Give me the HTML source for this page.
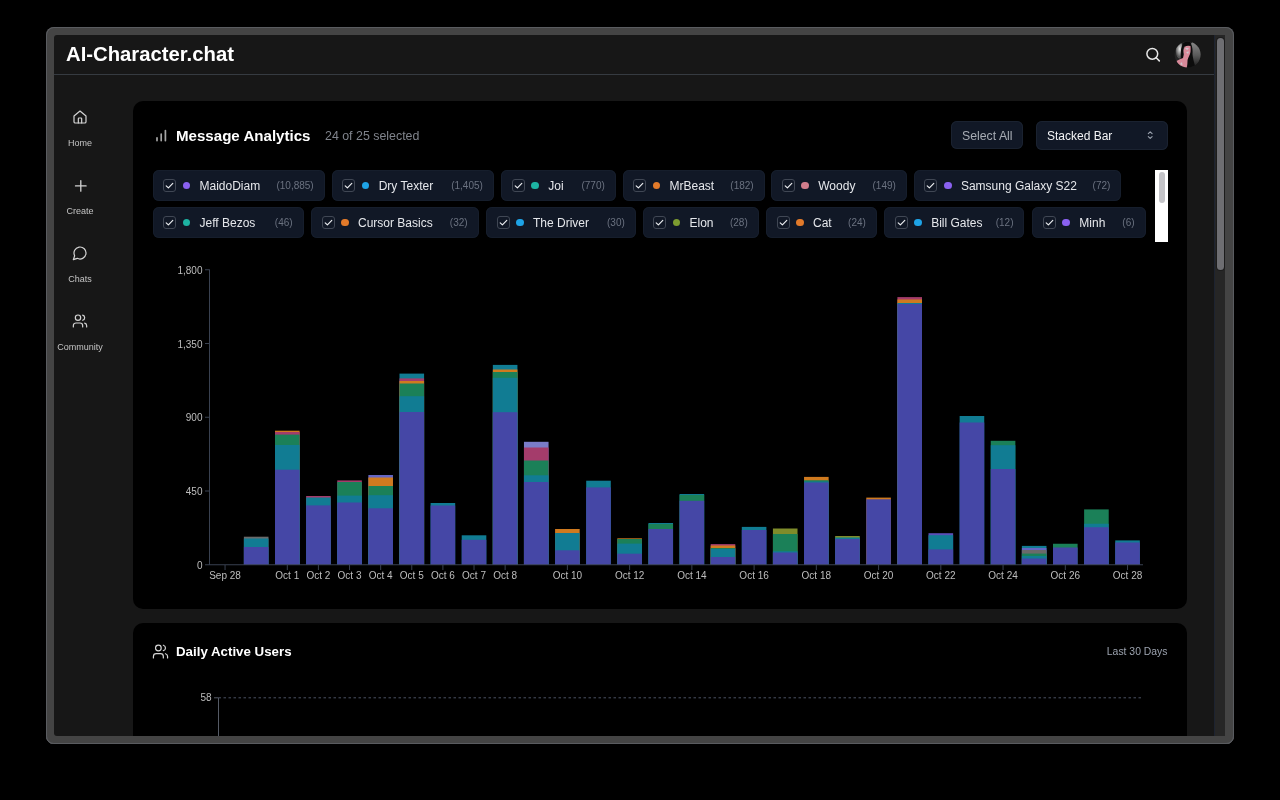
<!DOCTYPE html>
<html><head><meta charset="utf-8">
<style>
html,body{margin:0;padding:0;}
body{width:1280px;height:800px;overflow:hidden;background:#000;position:relative;font-family:"Liberation Sans",sans-serif;}
.wrap{position:absolute;left:0;top:0;width:1280px;height:800px;will-change:transform;}
.abs{position:absolute;}
.frame{position:absolute;left:46px;top:27px;width:1188px;height:717px;background:#444444;border-radius:8px;box-shadow:inset 0 0 0 1px #5a5c60;}
.screen{position:absolute;left:54px;top:35px;width:1171px;height:701px;background:#171717;border-radius:3px;overflow:hidden;}
.hdr-line{position:absolute;left:54px;top:74px;width:1159.5px;height:1px;background:#363b41;}
.title{position:absolute;left:66px;top:44.3px;font-size:20.3px;line-height:20.3px;font-weight:bold;color:#fff;white-space:nowrap;}
.track{position:absolute;left:1213.5px;top:35px;width:11.5px;height:701px;background:#262626;box-shadow:inset 1px 0 0 #1d2330;}
.thumb{position:absolute;left:1216.5px;top:37.5px;width:7px;height:232.5px;background:#6e6e72;border-radius:3.5px;box-shadow:0 0 0 1px #1c1c1c;}
.nav{position:absolute;left:54px;width:52px;text-align:center;font-size:9px;line-height:9px;color:#c4c4c4;}
.card{position:absolute;left:133px;width:1054px;background:#000;border-radius:10px;}
.chip{position:absolute;height:31px;background:#111826;border-radius:6px;box-shadow:inset 0 0 0 1px #161e2c;}
.cb{position:absolute;left:10.5px;top:9px;width:11px;height:11px;border:1px solid #404754;border-radius:3px;}
.cb svg{position:absolute;left:-1px;top:-1px;}
.dot{position:absolute;left:30.2px;top:11.5px;width:7.6px;height:7.6px;border-radius:50%;}
.nm{position:absolute;left:47px;top:10px;font-size:12px;line-height:12px;color:#e5e7eb;white-space:nowrap;}
.ct{position:absolute;right:11px;top:11px;font-size:10px;line-height:10px;color:#6b7280;white-space:nowrap;}
.btn{position:absolute;background:#111826;border-radius:6px;box-shadow:inset 0 0 0 1px #1a2230;}
svg text.ax{font-family:"Liberation Sans",sans-serif;font-size:10px;fill:#bdbdbd;}
</style></head><body><div class="wrap">
<div class="frame"></div>
<div class="screen"></div>
<div class="hdr-line"></div>
<div class="title">AI-Character.chat</div>
<svg class="abs" style="left:1144px;top:46px" width="18" height="18" viewBox="0 0 18 18"><circle cx="8.3" cy="7.8" r="5.4" fill="none" stroke="#e8e8e8" stroke-width="1.5"/><path d="M12.2 11.8 L15.3 14.9" stroke="#e8e8e8" stroke-width="1.5" stroke-linecap="round"/></svg>
<svg class="abs" style="left:1170px;top:38px" width="34" height="34" viewBox="0 0 34 34">
<defs><clipPath id="av"><circle cx="17.6" cy="16.6" r="13"/></clipPath>
<linearGradient id="avr" x1="0" y1="0" x2="0" y2="1"><stop offset="0" stop-color="#8c8c8c"/><stop offset="0.6" stop-color="#5a5a5a"/><stop offset="1" stop-color="#262626"/></linearGradient>
<radialGradient id="avl" cx="0.5" cy="0.4" r="0.5"><stop offset="0" stop-color="#e8e8e8"/><stop offset="1" stop-color="#555"/></radialGradient></defs>
<g clip-path="url(#av)"><rect width="34" height="34" fill="#262626"/>
<ellipse cx="25.5" cy="15" rx="7" ry="12" fill="url(#avr)"/>
<ellipse cx="9.8" cy="12.5" rx="4" ry="8" fill="url(#avl)"/>
<path d="M11 22 Q10 12 12.5 6 Q16 2.5 20 4 Q23 8 22.5 16 Q23 22 26 31 L17 32 Q18 22 18 14 Q17.5 7 14 8 Q12.5 14 13.5 21Z" fill="#0c0c0c"/>
<path d="M14.5 9 Q17 7 20.5 8 Q21 13 20 16 Q18.5 19 17.5 22 Q17.5 27 16.5 31 L11 31 Q7.5 27 6.5 23 Q10 21 13 20 Q13.5 18 14 16 Q13 12 14.5 9Z" fill="#d98a9a"/>
<path d="M15 10 Q17.5 9.5 19 10.5 L17 12 Z M16 14 L19 13.5 L18 16 Z M10 26 L12 24 L12.5 27.5 Z" fill="#c9d4d8" opacity="0.8"/>
</g></svg>
<div class="track"></div><div class="thumb"></div>

<!-- sidebar -->
<svg class="abs" style="left:72px;top:109px" width="16" height="16" viewBox="0 0 24 24" fill="none" stroke="#d4d4d4" stroke-width="1.8" stroke-linecap="round" stroke-linejoin="round"><path d="M3 10.5 L12 3 L21 10.5 V19 a2 2 0 0 1 -2 2 H5 a2 2 0 0 1 -2 -2 Z"/><path d="M9.5 21 V14.5 a1 1 0 0 1 1 -1 h3 a1 1 0 0 1 1 1 V21"/></svg>
<div class="nav" style="top:138.6px">Home</div>
<svg class="abs" style="left:73.5px;top:178.5px" width="13" height="13" viewBox="0 0 13 13" stroke="#d4d4d4" stroke-width="1.3" stroke-linecap="round"><path d="M6.8 1.6 V12.2 M1.5 6.9 H12.1"/></svg>
<div class="nav" style="top:206.6px">Create</div>
<svg class="abs" style="left:72px;top:245px" width="16" height="16" viewBox="0 0 24 24" fill="none" stroke="#d4d4d4" stroke-width="1.8" stroke-linecap="round" stroke-linejoin="round"><path d="M7.9 20 A9 9 0 1 0 4 16.1 L2 22 Z"/></svg>
<div class="nav" style="top:274.6px">Chats</div>
<svg class="abs" style="left:72px;top:312.5px" width="16" height="16" viewBox="0 0 24 24" fill="none" stroke="#d4d4d4" stroke-width="1.8" stroke-linecap="round" stroke-linejoin="round"><path d="M16 21v-2a4 4 0 0 0-4-4H6a4 4 0 0 0-4 4v2"/><circle cx="9" cy="7" r="4"/><path d="M22 21v-2a4 4 0 0 0-3-3.87"/><path d="M16 3.13a4 4 0 0 1 0 7.75"/></svg>
<div class="nav" style="top:342.6px">Community</div>

<!-- card 1 -->
<div class="card" style="top:100.5px;height:508.2px"></div>
<svg class="abs" style="left:155px;top:129px" width="12" height="13" viewBox="0 0 12 13" stroke="#a6a6a6" stroke-width="1.7" stroke-linecap="round"><path d="M2 11.6 V8.8 M6.2 11.6 V5.2 M10.4 11.6 V1.6"/></svg>
<div class="abs" style="left:176px;top:128.1px;font-size:15.1px;line-height:15.1px;font-weight:bold;color:#fff;white-space:nowrap">Message Analytics</div>
<div class="abs" style="left:325px;top:130px;font-size:12.4px;line-height:12.4px;color:#80848c;white-space:nowrap">24 of 25 selected</div>
<div class="btn" style="left:951px;top:121px;width:72px;height:28px"></div>
<div class="abs" style="left:962px;top:129.9px;font-size:12.3px;line-height:12.3px;color:#a6abb3;white-space:nowrap">Select All</div>
<div class="btn" style="left:1036px;top:120.5px;width:132px;height:29px"></div>
<div class="abs" style="left:1047px;top:129.9px;font-size:12px;line-height:12px;color:#f3f4f6;white-space:nowrap">Stacked Bar</div>
<svg class="abs" style="left:1146px;top:129px" width="8" height="12" viewBox="0 0 8 12" fill="none" stroke="#9ca3af" stroke-width="1.1" stroke-linecap="round" stroke-linejoin="round"><path d="M2.3 4.6 L4.2 2.8 L6.1 4.6 M2.3 7.6 L4.2 9.4 L6.1 7.6"/></svg>
<div class="chip" style="left:152.5px;top:170px;width:172.20px">
<div class="cb"><svg width="13" height="13" viewBox="0 0 13 13"><path d="M3.2 6.8 L5.4 8.9 L9.8 4.3" fill="none" stroke="#eef0f3" stroke-width="1.15" stroke-linecap="round" stroke-linejoin="round"/></svg></div>
<div class="dot" style="background:#8a61f0"></div>
<div class="nm">MaidoDiam</div><div class="ct">(10,885)</div></div>
<div class="chip" style="left:331.7px;top:170px;width:162.20px">
<div class="cb"><svg width="13" height="13" viewBox="0 0 13 13"><path d="M3.2 6.8 L5.4 8.9 L9.8 4.3" fill="none" stroke="#eef0f3" stroke-width="1.15" stroke-linecap="round" stroke-linejoin="round"/></svg></div>
<div class="dot" style="background:#1ea3e6"></div>
<div class="nm">Dry Texter</div><div class="ct">(1,405)</div></div>
<div class="chip" style="left:501.25px;top:170px;width:114.55px">
<div class="cb"><svg width="13" height="13" viewBox="0 0 13 13"><path d="M3.2 6.8 L5.4 8.9 L9.8 4.3" fill="none" stroke="#eef0f3" stroke-width="1.15" stroke-linecap="round" stroke-linejoin="round"/></svg></div>
<div class="dot" style="background:#1db3a2"></div>
<div class="nm">Joi</div><div class="ct">(770)</div></div>
<div class="chip" style="left:622.5px;top:170px;width:142.20px">
<div class="cb"><svg width="13" height="13" viewBox="0 0 13 13"><path d="M3.2 6.8 L5.4 8.9 L9.8 4.3" fill="none" stroke="#eef0f3" stroke-width="1.15" stroke-linecap="round" stroke-linejoin="round"/></svg></div>
<div class="dot" style="background:#e27a2a"></div>
<div class="nm">MrBeast</div><div class="ct">(182)</div></div>
<div class="chip" style="left:771.25px;top:170px;width:135.65px">
<div class="cb"><svg width="13" height="13" viewBox="0 0 13 13"><path d="M3.2 6.8 L5.4 8.9 L9.8 4.3" fill="none" stroke="#eef0f3" stroke-width="1.15" stroke-linecap="round" stroke-linejoin="round"/></svg></div>
<div class="dot" style="background:#d07d8c"></div>
<div class="nm">Woody</div><div class="ct">(149)</div></div>
<div class="chip" style="left:913.9px;top:170px;width:207.50px">
<div class="cb"><svg width="13" height="13" viewBox="0 0 13 13"><path d="M3.2 6.8 L5.4 8.9 L9.8 4.3" fill="none" stroke="#eef0f3" stroke-width="1.15" stroke-linecap="round" stroke-linejoin="round"/></svg></div>
<div class="dot" style="background:#8a61f0"></div>
<div class="nm">Samsung Galaxy S22</div><div class="ct">(72)</div></div>
<div class="chip" style="left:152.5px;top:207.3px;width:151.10px">
<div class="cb"><svg width="13" height="13" viewBox="0 0 13 13"><path d="M3.2 6.8 L5.4 8.9 L9.8 4.3" fill="none" stroke="#eef0f3" stroke-width="1.15" stroke-linecap="round" stroke-linejoin="round"/></svg></div>
<div class="dot" style="background:#1db3a2"></div>
<div class="nm">Jeff Bezos</div><div class="ct">(46)</div></div>
<div class="chip" style="left:311px;top:207.3px;width:167.60px">
<div class="cb"><svg width="13" height="13" viewBox="0 0 13 13"><path d="M3.2 6.8 L5.4 8.9 L9.8 4.3" fill="none" stroke="#eef0f3" stroke-width="1.15" stroke-linecap="round" stroke-linejoin="round"/></svg></div>
<div class="dot" style="background:#e27a2a"></div>
<div class="nm">Cursor Basics</div><div class="ct">(32)</div></div>
<div class="chip" style="left:486px;top:207.3px;width:149.80px">
<div class="cb"><svg width="13" height="13" viewBox="0 0 13 13"><path d="M3.2 6.8 L5.4 8.9 L9.8 4.3" fill="none" stroke="#eef0f3" stroke-width="1.15" stroke-linecap="round" stroke-linejoin="round"/></svg></div>
<div class="dot" style="background:#1ea3e6"></div>
<div class="nm">The Driver</div><div class="ct">(30)</div></div>
<div class="chip" style="left:642.5px;top:207.3px;width:116.25px">
<div class="cb"><svg width="13" height="13" viewBox="0 0 13 13"><path d="M3.2 6.8 L5.4 8.9 L9.8 4.3" fill="none" stroke="#eef0f3" stroke-width="1.15" stroke-linecap="round" stroke-linejoin="round"/></svg></div>
<div class="dot" style="background:#7d9c30"></div>
<div class="nm">Elon</div><div class="ct">(28)</div></div>
<div class="chip" style="left:766px;top:207.3px;width:110.90px">
<div class="cb"><svg width="13" height="13" viewBox="0 0 13 13"><path d="M3.2 6.8 L5.4 8.9 L9.8 4.3" fill="none" stroke="#eef0f3" stroke-width="1.15" stroke-linecap="round" stroke-linejoin="round"/></svg></div>
<div class="dot" style="background:#e27a2a"></div>
<div class="nm">Cat</div><div class="ct">(24)</div></div>
<div class="chip" style="left:884.2px;top:207.3px;width:140.30px">
<div class="cb"><svg width="13" height="13" viewBox="0 0 13 13"><path d="M3.2 6.8 L5.4 8.9 L9.8 4.3" fill="none" stroke="#eef0f3" stroke-width="1.15" stroke-linecap="round" stroke-linejoin="round"/></svg></div>
<div class="dot" style="background:#1ea3e6"></div>
<div class="nm">Bill Gates</div><div class="ct">(12)</div></div>
<div class="chip" style="left:1032.3px;top:207.3px;width:113.30px">
<div class="cb"><svg width="13" height="13" viewBox="0 0 13 13"><path d="M3.2 6.8 L5.4 8.9 L9.8 4.3" fill="none" stroke="#eef0f3" stroke-width="1.15" stroke-linecap="round" stroke-linejoin="round"/></svg></div>
<div class="dot" style="background:#8a61f0"></div>
<div class="nm">Minh</div><div class="ct">(6)</div></div>
<div class="abs" style="left:1155px;top:169.7px;width:12.8px;height:72px;background:#fff"></div>
<div class="abs" style="left:1158.8px;top:172px;width:6.4px;height:31.3px;background:#c4c4c8;border-radius:3.2px"></div>

<!-- card 2 -->
<div class="card" style="top:622.6px;height:130px"></div>
<svg class="abs" style="left:152px;top:643px" width="17" height="17" viewBox="0 0 24 24" fill="none" stroke="#d4d4d4" stroke-width="1.7" stroke-linecap="round" stroke-linejoin="round"><path d="M16 21v-2a4 4 0 0 0-4-4H6a4 4 0 0 0-4 4v2"/><circle cx="9" cy="7" r="4"/><path d="M22 21v-2a4 4 0 0 0-3-3.87"/><path d="M16 3.13a4 4 0 0 1 0 7.75"/></svg>
<div class="abs" style="left:176px;top:644.6px;font-size:13.3px;line-height:13.3px;font-weight:bold;color:#fff;white-space:nowrap">Daily Active Users</div>
<div class="abs" style="right:112.5px;top:646.9px;font-size:10.4px;line-height:10.4px;color:#9ca3af;white-space:nowrap">Last 30 Days</div>

<svg class="abs" style="left:0;top:0" width="1280" height="800" viewBox="0 0 1280 800">
<rect x="243.88" y="536.7" width="24.6" height="28.30" fill="#6a6a6a"/>
<rect x="243.88" y="538.5" width="24.6" height="26.50" fill="#117c93"/>
<rect x="243.88" y="547" width="24.6" height="18.00" fill="#4547a6"/>
<rect x="275.00" y="430.7" width="24.6" height="134.30" fill="#cf7a1f"/>
<rect x="275.00" y="432" width="24.6" height="133.00" fill="#a43c6b"/>
<rect x="275.00" y="434.6" width="24.6" height="130.40" fill="#1b8058"/>
<rect x="275.00" y="445" width="24.6" height="120.00" fill="#117c93"/>
<rect x="275.00" y="469.7" width="24.6" height="95.30" fill="#4547a6"/>
<rect x="306.12" y="496" width="24.6" height="69.00" fill="#a43c6b"/>
<rect x="306.12" y="497.5" width="24.6" height="67.50" fill="#117c93"/>
<rect x="306.12" y="505.4" width="24.6" height="59.60" fill="#4547a6"/>
<rect x="337.24" y="480.4" width="24.6" height="84.60" fill="#a43c6b"/>
<rect x="337.24" y="482" width="24.6" height="83.00" fill="#1b8058"/>
<rect x="337.24" y="495.6" width="24.6" height="69.40" fill="#117c93"/>
<rect x="337.24" y="502.5" width="24.6" height="62.50" fill="#4547a6"/>
<rect x="368.36" y="475" width="24.6" height="90.00" fill="#6466c4"/>
<rect x="368.36" y="477.5" width="24.6" height="87.50" fill="#cf7a1f"/>
<rect x="368.36" y="486" width="24.6" height="79.00" fill="#1b8058"/>
<rect x="368.36" y="495.2" width="24.6" height="69.80" fill="#117c93"/>
<rect x="368.36" y="508.3" width="24.6" height="56.70" fill="#4547a6"/>
<rect x="399.48" y="373.6" width="24.6" height="191.40" fill="#117c93"/>
<rect x="399.48" y="378.4" width="24.6" height="186.60" fill="#a43c6b"/>
<rect x="399.48" y="381" width="24.6" height="184.00" fill="#cf7a1f"/>
<rect x="399.48" y="383.5" width="24.6" height="181.50" fill="#1b8058"/>
<rect x="399.48" y="396.2" width="24.6" height="168.80" fill="#117c93"/>
<rect x="399.48" y="412" width="24.6" height="153.00" fill="#4547a6"/>
<rect x="430.60" y="503" width="24.6" height="62.00" fill="#117c93"/>
<rect x="430.60" y="505.5" width="24.6" height="59.50" fill="#4547a6"/>
<rect x="461.72" y="535.3" width="24.6" height="29.70" fill="#117c93"/>
<rect x="461.72" y="539.8" width="24.6" height="25.20" fill="#4547a6"/>
<rect x="492.84" y="364.9" width="24.6" height="200.10" fill="#117c93"/>
<rect x="492.84" y="369.5" width="24.6" height="195.50" fill="#cf7a1f"/>
<rect x="492.84" y="372" width="24.6" height="193.00" fill="#1b8058"/>
<rect x="492.84" y="377.8" width="24.6" height="187.20" fill="#117c93"/>
<rect x="492.84" y="412.2" width="24.6" height="152.80" fill="#4547a6"/>
<rect x="523.96" y="441.8" width="24.6" height="123.20" fill="#7a7cc8"/>
<rect x="523.96" y="447.5" width="24.6" height="117.50" fill="#a43c6b"/>
<rect x="523.96" y="460.5" width="24.6" height="104.50" fill="#1b8058"/>
<rect x="523.96" y="475.3" width="24.6" height="89.70" fill="#117c93"/>
<rect x="523.96" y="482" width="24.6" height="83.00" fill="#4547a6"/>
<rect x="555.08" y="529" width="24.6" height="36.00" fill="#cf7a1f"/>
<rect x="555.08" y="533" width="24.6" height="32.00" fill="#117c93"/>
<rect x="555.08" y="550.3" width="24.6" height="14.70" fill="#4547a6"/>
<rect x="586.20" y="480.7" width="24.6" height="84.30" fill="#117c93"/>
<rect x="586.20" y="487.4" width="24.6" height="77.60" fill="#4547a6"/>
<rect x="617.32" y="538.3" width="24.6" height="26.70" fill="#cf7a1f"/>
<rect x="617.32" y="539" width="24.6" height="26.00" fill="#1b8058"/>
<rect x="617.32" y="543.6" width="24.6" height="21.40" fill="#117c93"/>
<rect x="617.32" y="553.7" width="24.6" height="11.30" fill="#4547a6"/>
<rect x="648.44" y="523" width="24.6" height="42.00" fill="#117c93"/>
<rect x="648.44" y="524" width="24.6" height="41.00" fill="#1b8058"/>
<rect x="648.44" y="529" width="24.6" height="36.00" fill="#4547a6"/>
<rect x="679.56" y="494" width="24.6" height="71.00" fill="#117c93"/>
<rect x="679.56" y="495" width="24.6" height="70.00" fill="#1b8058"/>
<rect x="679.56" y="500.8" width="24.6" height="64.20" fill="#4547a6"/>
<rect x="710.68" y="544.1" width="24.6" height="20.90" fill="#a43c6b"/>
<rect x="710.68" y="545.5" width="24.6" height="19.50" fill="#cf7a1f"/>
<rect x="710.68" y="548" width="24.6" height="17.00" fill="#1b8058"/>
<rect x="710.68" y="549" width="24.6" height="16.00" fill="#117c93"/>
<rect x="710.68" y="557" width="24.6" height="8.00" fill="#4547a6"/>
<rect x="741.80" y="526.9" width="24.6" height="38.10" fill="#117c93"/>
<rect x="741.80" y="530" width="24.6" height="35.00" fill="#4547a6"/>
<rect x="772.92" y="528.5" width="24.6" height="36.50" fill="#7f8c2a"/>
<rect x="772.92" y="534" width="24.6" height="31.00" fill="#1b8058"/>
<rect x="772.92" y="551.25" width="24.6" height="13.75" fill="#117c93"/>
<rect x="772.92" y="552.5" width="24.6" height="12.50" fill="#4547a6"/>
<rect x="804.04" y="476.9" width="24.6" height="88.10" fill="#cf7a1f"/>
<rect x="804.04" y="480.25" width="24.6" height="84.75" fill="#1b8058"/>
<rect x="804.04" y="481.5" width="24.6" height="83.50" fill="#117c93"/>
<rect x="804.04" y="482.5" width="24.6" height="82.50" fill="#4547a6"/>
<rect x="835.16" y="536" width="24.6" height="29.00" fill="#7f8c2a"/>
<rect x="835.16" y="537.5" width="24.6" height="27.50" fill="#117c93"/>
<rect x="835.16" y="539" width="24.6" height="26.00" fill="#4547a6"/>
<rect x="866.28" y="497.6" width="24.6" height="67.40" fill="#cf7a1f"/>
<rect x="866.28" y="499.3" width="24.6" height="65.70" fill="#4547a6"/>
<rect x="897.40" y="297.1" width="24.6" height="267.90" fill="#a43c6b"/>
<rect x="897.40" y="299.5" width="24.6" height="265.50" fill="#cf7a1f"/>
<rect x="897.40" y="303" width="24.6" height="262.00" fill="#117c93"/>
<rect x="897.40" y="304" width="24.6" height="261.00" fill="#4547a6"/>
<rect x="928.52" y="533.2" width="24.6" height="31.80" fill="#5a4fb8"/>
<rect x="928.52" y="535.2" width="24.6" height="29.80" fill="#117c93"/>
<rect x="928.52" y="549.4" width="24.6" height="15.60" fill="#4547a6"/>
<rect x="959.64" y="416" width="24.6" height="149.00" fill="#117c93"/>
<rect x="959.64" y="422.5" width="24.6" height="142.50" fill="#4547a6"/>
<rect x="990.76" y="440.8" width="24.6" height="124.20" fill="#1b8058"/>
<rect x="990.76" y="445.2" width="24.6" height="119.80" fill="#117c93"/>
<rect x="990.76" y="469" width="24.6" height="96.00" fill="#4547a6"/>
<rect x="1021.88" y="545.9" width="24.6" height="19.10" fill="#117c93"/>
<rect x="1021.88" y="548" width="24.6" height="17.00" fill="#6466c4"/>
<rect x="1021.88" y="550" width="24.6" height="15.00" fill="#6a6a6a"/>
<rect x="1021.88" y="553.6" width="24.6" height="11.40" fill="#1b8058"/>
<rect x="1021.88" y="556" width="24.6" height="9.00" fill="#117c93"/>
<rect x="1021.88" y="558.5" width="24.6" height="6.50" fill="#4547a6"/>
<rect x="1053.00" y="543.75" width="24.6" height="21.25" fill="#1b8058"/>
<rect x="1053.00" y="547.5" width="24.6" height="17.50" fill="#4547a6"/>
<rect x="1084.12" y="509.4" width="24.6" height="55.60" fill="#1b8058"/>
<rect x="1084.12" y="523.75" width="24.6" height="41.25" fill="#117c93"/>
<rect x="1084.12" y="527.25" width="24.6" height="37.75" fill="#4547a6"/>
<rect x="1115.24" y="540.4" width="24.6" height="24.60" fill="#117c93"/>
<rect x="1115.24" y="542.5" width="24.6" height="22.50" fill="#4547a6"/>
<line x1="209.5" y1="269.5" x2="209.5" y2="565" stroke="#394150" stroke-width="1"/>
<line x1="209.5" y1="564.75" x2="1143" y2="564.75" stroke="#394150" stroke-width="1"/>
<line x1="205" y1="269.75" x2="209.5" y2="269.75" stroke="#394150" stroke-width="1"/>
<text x="202.5" y="273.95" text-anchor="end" class="ax">1,800</text>
<line x1="205" y1="343.5" x2="209.5" y2="343.5" stroke="#394150" stroke-width="1"/>
<text x="202.5" y="347.70" text-anchor="end" class="ax">1,350</text>
<line x1="205" y1="417.25" x2="209.5" y2="417.25" stroke="#394150" stroke-width="1"/>
<text x="202.5" y="421.45" text-anchor="end" class="ax">900</text>
<line x1="205" y1="491.0" x2="209.5" y2="491.0" stroke="#394150" stroke-width="1"/>
<text x="202.5" y="495.20" text-anchor="end" class="ax">450</text>
<line x1="205" y1="564.75" x2="209.5" y2="564.75" stroke="#394150" stroke-width="1"/>
<text x="202.5" y="568.95" text-anchor="end" class="ax">0</text>
<line x1="225.06" y1="565" x2="225.06" y2="570" stroke="#394150" stroke-width="1"/>
<text x="225.06" y="578.8" text-anchor="middle" class="ax">Sep 28</text>
<line x1="287.30" y1="565" x2="287.30" y2="570" stroke="#394150" stroke-width="1"/>
<text x="287.30" y="578.8" text-anchor="middle" class="ax">Oct 1</text>
<line x1="318.42" y1="565" x2="318.42" y2="570" stroke="#394150" stroke-width="1"/>
<text x="318.42" y="578.8" text-anchor="middle" class="ax">Oct 2</text>
<line x1="349.54" y1="565" x2="349.54" y2="570" stroke="#394150" stroke-width="1"/>
<text x="349.54" y="578.8" text-anchor="middle" class="ax">Oct 3</text>
<line x1="380.66" y1="565" x2="380.66" y2="570" stroke="#394150" stroke-width="1"/>
<text x="380.66" y="578.8" text-anchor="middle" class="ax">Oct 4</text>
<line x1="411.78" y1="565" x2="411.78" y2="570" stroke="#394150" stroke-width="1"/>
<text x="411.78" y="578.8" text-anchor="middle" class="ax">Oct 5</text>
<line x1="442.90" y1="565" x2="442.90" y2="570" stroke="#394150" stroke-width="1"/>
<text x="442.90" y="578.8" text-anchor="middle" class="ax">Oct 6</text>
<line x1="474.02" y1="565" x2="474.02" y2="570" stroke="#394150" stroke-width="1"/>
<text x="474.02" y="578.8" text-anchor="middle" class="ax">Oct 7</text>
<line x1="505.14" y1="565" x2="505.14" y2="570" stroke="#394150" stroke-width="1"/>
<text x="505.14" y="578.8" text-anchor="middle" class="ax">Oct 8</text>
<line x1="567.38" y1="565" x2="567.38" y2="570" stroke="#394150" stroke-width="1"/>
<text x="567.38" y="578.8" text-anchor="middle" class="ax">Oct 10</text>
<line x1="629.62" y1="565" x2="629.62" y2="570" stroke="#394150" stroke-width="1"/>
<text x="629.62" y="578.8" text-anchor="middle" class="ax">Oct 12</text>
<line x1="691.86" y1="565" x2="691.86" y2="570" stroke="#394150" stroke-width="1"/>
<text x="691.86" y="578.8" text-anchor="middle" class="ax">Oct 14</text>
<line x1="754.10" y1="565" x2="754.10" y2="570" stroke="#394150" stroke-width="1"/>
<text x="754.10" y="578.8" text-anchor="middle" class="ax">Oct 16</text>
<line x1="816.34" y1="565" x2="816.34" y2="570" stroke="#394150" stroke-width="1"/>
<text x="816.34" y="578.8" text-anchor="middle" class="ax">Oct 18</text>
<line x1="878.58" y1="565" x2="878.58" y2="570" stroke="#394150" stroke-width="1"/>
<text x="878.58" y="578.8" text-anchor="middle" class="ax">Oct 20</text>
<line x1="940.82" y1="565" x2="940.82" y2="570" stroke="#394150" stroke-width="1"/>
<text x="940.82" y="578.8" text-anchor="middle" class="ax">Oct 22</text>
<line x1="1003.06" y1="565" x2="1003.06" y2="570" stroke="#394150" stroke-width="1"/>
<text x="1003.06" y="578.8" text-anchor="middle" class="ax">Oct 24</text>
<line x1="1065.30" y1="565" x2="1065.30" y2="570" stroke="#394150" stroke-width="1"/>
<text x="1065.30" y="578.8" text-anchor="middle" class="ax">Oct 26</text>
<line x1="1127.54" y1="565" x2="1127.54" y2="570" stroke="#394150" stroke-width="1"/>
<text x="1127.54" y="578.8" text-anchor="middle" class="ax">Oct 28</text>
<line x1="218.5" y1="697.8" x2="218.5" y2="740" stroke="#555b66" stroke-width="1"/>
<line x1="214" y1="697.8" x2="218.5" y2="697.8" stroke="#555b66" stroke-width="1"/>
<line x1="218.5" y1="697.8" x2="1142" y2="697.8" stroke="#4a5263" stroke-width="1" stroke-dasharray="2.5 2.5"/>
<text x="211.5" y="701.4" text-anchor="end" class="ax">58</text>
</svg>
<!-- bottom frame overlay to clip card2 -->
<div class="abs" style="left:54px;top:736px;width:1171px;height:8px;background:#444444"></div>
<div class="abs" style="left:46px;top:736px;width:1188px;height:8px;background:#444444;border-radius:0 0 8px 8px;box-shadow:inset 0 -1px 0 #5a5c60, inset 1px 0 0 #5a5c60, inset -1px 0 0 #5a5c60"></div>
</div></body></html>
